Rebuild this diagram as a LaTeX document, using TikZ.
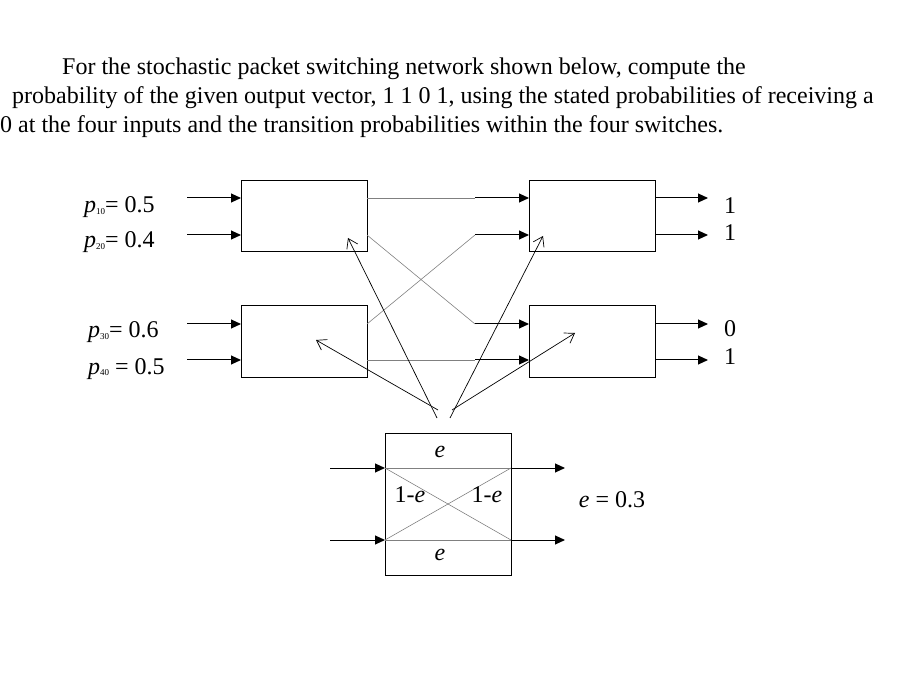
\documentclass[tikz,border=0pt]{standalone}
\usepackage{fontspec}
\setmainfont{Liberation Serif}
\usetikzlibrary{arrows.meta}
\newcommand{\subsm}[1]{\raisebox{-0.1ex}{\fontsize{9}{9}\selectfont #1}}
\begin{document}
\begin{tikzpicture}[x=1pt,y=-1pt,
  box/.style={draw,line width=1pt,inner sep=0},
  inarr/.style={line width=1pt,-{Triangle[length=10pt,width=9pt]}},
  wire/.style={draw=gray,line width=0.6pt},
  ctl/.style={line width=0.7pt,-{Straight Barb[length=9pt,width=12pt]}},
  txt/.style={font=\rmfamily\fontsize{24}{28}\selectfont,anchor=base west,inner sep=0},
  lab/.style={font=\rmfamily\fontsize{24}{28}\selectfont,inner sep=0}]
\useasboundingbox (0,0) rectangle (898,695);
\node[txt] (t1) at (62,75) {For the stochastic packet switching network shown below, compute the};
\node[txt] (t2) at (12,104) {probability of the given output vector, 1 1 0 1, using the stated probabilities of receiving a};
\node[txt] (t3) at (0,133) {0 at the four inputs and the transition probabilities within the four switches.};
% boxes
\draw[box] (241,181) rectangle (367,252);
\draw[box] (529,181) rectangle (655,252);
\draw[box] (241,306) rectangle (367,378);
\draw[box] (529,306) rectangle (655,378);
\draw[box] (385,433) rectangle (511,575);
% coordinates
\foreach \n/\y in {a/198,b/235,c/324,d/360}{
  \coordinate (i\n) at (187,\y); \coordinate (l\n) at (241,\y);
  \coordinate (r\n) at (367,\y); \coordinate (m\n) at (475,\y);
  \coordinate (s\n) at (529,\y); \coordinate (o\n) at (655,\y);
  \coordinate (e\n) at (708,\y);
  \draw[inarr] (i\n) -- (l\n);
  \draw[inarr] (o\n) -- (e\n);
}
\draw[wire] (ra) -- (ma); \draw[inarr] (ma) -- (sa);
\draw[wire] (rb) -- (mc); \draw[inarr] (mc) -- (sc);
\draw[wire] (rc) -- (mb); \draw[inarr] (mb) -- (sb);
\draw[wire] (rd) -- (md); \draw[inarr] (md) -- (sd);
% labels
\node[lab,anchor=base west] (p1) at (84,213) {\textit{p}\subsm{10}= 0.5};
\node[lab,anchor=base west] (p2) at (84,248) {\textit{p}\subsm{20}= 0.4};
\node[lab,anchor=base west] (p3) at (88,338) {\textit{p}\subsm{30}= 0.6};
\node[lab,anchor=base west] (p4) at (88,374) {\textit{p}\subsm{40} = 0.5};
\node[lab] (q1) at (730,206) {1};
\node[lab] (q2) at (730,233) {1};
\node[lab] (q3) at (730,329) {0};
\node[lab] (q4) at (730,357) {1};
% control arrows
\coordinate (c1) at (437,418); \coordinate (c2) at (438,410);
\coordinate (c3) at (450,418); \coordinate (c4) at (452,410);
\coordinate (h1) at (348,238); \coordinate (h2) at (316,340);
\coordinate (h3) at (543,236); \coordinate (h4) at (575,333);
\draw[ctl] (c1) -- (h1);
\draw[ctl] (c2) -- (h2);
\draw[ctl] (c3) -- (h3);
\draw[ctl] (c4) -- (h4);
% legend switch
\coordinate (x1) at (330,468); \coordinate (x2) at (330,540);
\coordinate (y1) at (385,468); \coordinate (y2) at (385,540);
\coordinate (z1) at (511,468); \coordinate (z2) at (511,540);
\coordinate (w1) at (565,468); \coordinate (w2) at (565,540);
\draw[wire] (y1) -- (z1); \draw[wire] (y2) -- (z2);
\draw[wire] (y1) -- (z2); \draw[wire] (y2) -- (z1);
\draw[inarr] (x1) -- (y1); \draw[inarr] (x2) -- (y2);
\draw[inarr] (z1) -- (w1); \draw[inarr] (z2) -- (w2);
\node[lab] (e1) at (440,452) {\textit{e}};
\node[lab] (e2) at (440,555) {\textit{e}};
\node[lab] (e3) at (410,495) {1-\textit{e}};
\node[lab] (e4) at (487,495) {1-\textit{e}};
\node[lab] (e5) at (612,500) {\textit{e} = 0.3};
\end{tikzpicture}
\end{document}
